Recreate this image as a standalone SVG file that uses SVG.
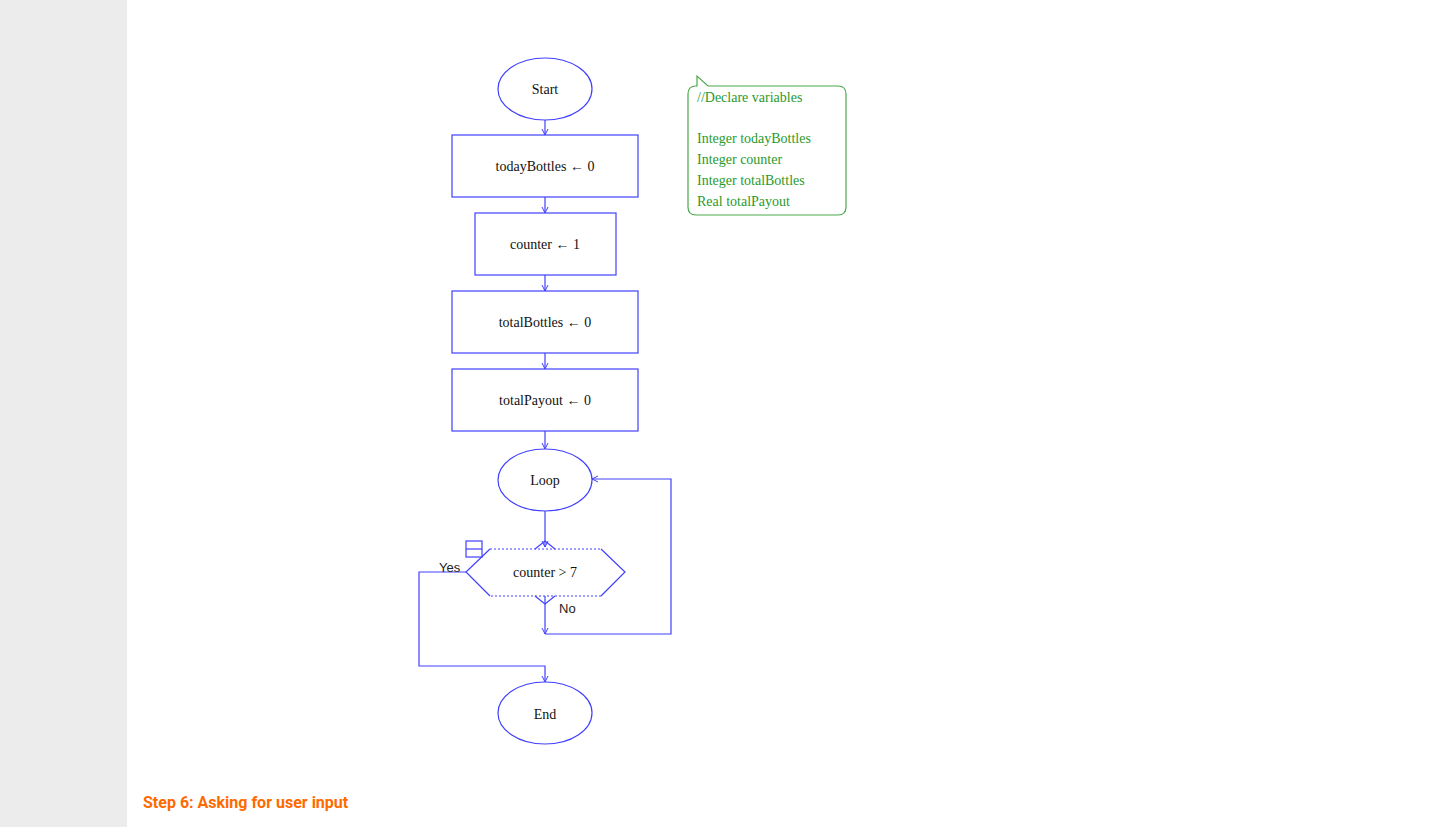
<svg xmlns="http://www.w3.org/2000/svg" width="1431" height="827" viewBox="0 0 1431 827">
<style>
.n{fill:#fff;stroke:#4040ff;stroke-width:1.2}
.t{font-family:"Liberation Serif",serif;font-size:14px;fill:#111;text-anchor:middle}
.c{fill:none;stroke:#4040ff;stroke-width:1.2}
.g{font-family:"Liberation Serif",serif;font-size:14px;fill:#2a9a2a}
.l{font-family:"Liberation Sans",sans-serif;font-size:13px;fill:#222}
</style>
<defs><marker id="a" markerWidth="8" markerHeight="8" refX="7" refY="4" orient="auto" markerUnits="userSpaceOnUse"><path d="M1,1 L7,4 L1,7" fill="none" stroke="#4040ff"/></marker></defs>
<rect x="0" y="0" width="1431" height="827" fill="#fff"/>
<rect x="0" y="0" width="127" height="827" fill="#ececec"/>
<g id="connectors">
<path class="c" d="M545,120 V135" marker-end="url(#a)"/>
<path class="c" d="M545,197 V213" marker-end="url(#a)"/>
<path class="c" d="M545,275 V291" marker-end="url(#a)"/>
<path class="c" d="M545,353 V369" marker-end="url(#a)"/>
<path class="c" d="M545,431 V449" marker-end="url(#a)"/>
<path class="c" d="M545,511 V547" marker-end="url(#a)"/>
<path class="c" d="M545,596 V634" marker-end="url(#a)"/>
<path class="c" d="M545,634 H671 V479 H592" marker-end="url(#a)"/>
<path class="c" d="M466,572 H419 V666 H545 V682" marker-end="url(#a)"/>
</g>
<g id="start"><ellipse class="n" cx="545" cy="89" rx="47" ry="31"/><text class="t" x="545" y="94">Start</text></g>
<g id="n1"><rect class="n" x="452" y="135" width="186" height="62"/><text class="t" x="545" y="171">todayBottles ← 0</text></g>
<g id="n2"><rect class="n" x="475" y="213" width="141" height="62"/><text class="t" x="545" y="249">counter ← 1</text></g>
<g id="n3"><rect class="n" x="452" y="291" width="186" height="62"/><text class="t" x="545" y="327">totalBottles ← 0</text></g>
<g id="n4"><rect class="n" x="452" y="369" width="186" height="62"/><text class="t" x="545" y="405">totalPayout ← 0</text></g>
<g id="loop"><ellipse class="n" cx="545" cy="480" rx="47" ry="31"/><text class="t" x="545" y="485">Loop</text></g>
<g id="cond">
<path d="M490,549 L601,549 L625,572 L601,596 L490,596 L466,572 Z" fill="#fff" stroke="none"/>
<path d="M490,549 H601 M601,596 H490" stroke="#4040ff" stroke-width="1" stroke-dasharray="2,2" fill="none"/>
<path d="M601,549 L625,572 L601,596 M490,596 L466,572 L490,549" class="c"/>
<path d="M535,549 L545,541 L555,549 M535,596 L545,604 L555,596" class="c"/>
<rect x="466" y="541" width="16" height="16" fill="#fff" stroke="#4040ff" stroke-width="1.2"/>
<path d="M466,549 H482" class="c"/>
<text class="t" x="545" y="577">counter &gt; 7</text>
<text class="l" x="439" y="572">Yes</text>
<text class="l" x="559" y="613">No</text>
</g>
<g id="end"><ellipse class="n" cx="545" cy="713" rx="47" ry="31"/><text class="t" x="545" y="719">End</text></g>
<g id="note">
<path d="M697,86 L697,76 L708,86 H838 Q846,86 846,94 V207 Q846,215 838,215 H696 Q688,215 688,207 V94 Q688,86 696,86 Z" fill="#fff" stroke="#4aaa4a" stroke-width="1.2"/>
<text class="g" x="697" y="102">//Declare variables</text>
<text class="g" x="697" y="143">Integer todayBottles</text>
<text class="g" x="697" y="164">Integer counter</text>
<text class="g" x="697" y="185">Integer totalBottles</text>
<text class="g" x="697" y="206">Real totalPayout</text>
</g>
<text x="143" y="808" font-family="Roboto,sans-serif" font-size="16" font-weight="bold" fill="#ff6a00">Step 6: Asking for user input</text>
</svg>
